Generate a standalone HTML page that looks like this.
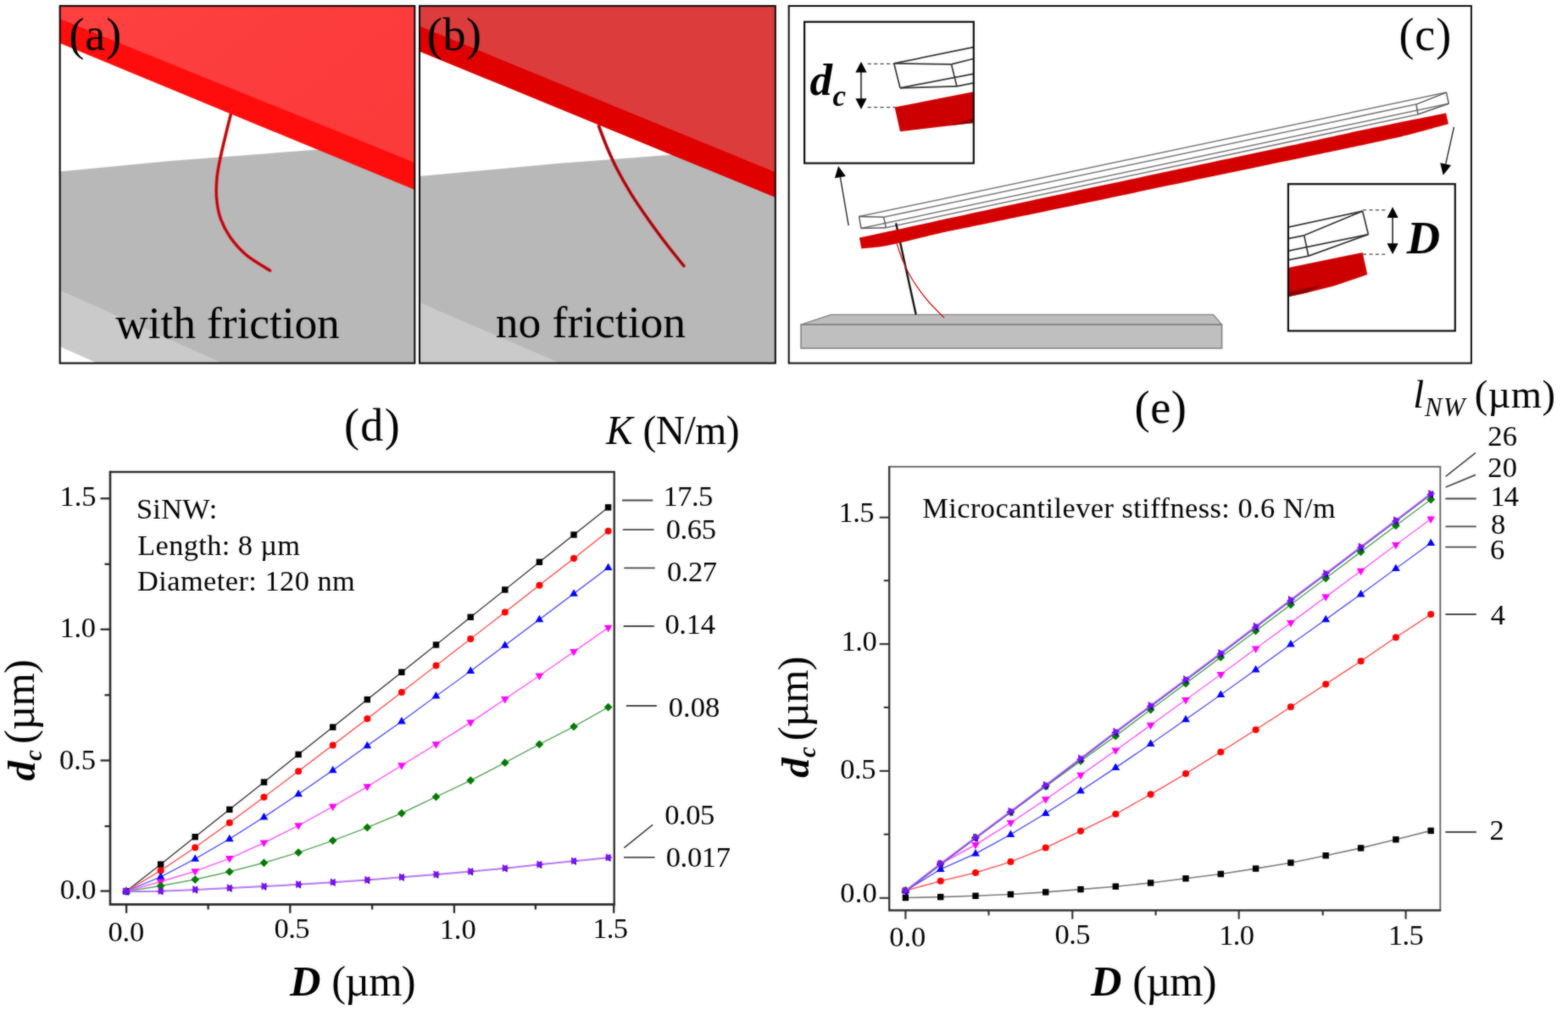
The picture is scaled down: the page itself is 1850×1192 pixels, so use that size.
<!DOCTYPE html>
<html lang="en"><head><meta charset="utf-8"><title>Figure</title>
<style>html,body{margin:0;padding:0;background:#fff;}body{width:1850px;height:1192px;overflow:hidden;}svg{display:block;}text{font-family:'Liberation Serif', 'DejaVu Serif', serif;fill:#000;}</style>
</head><body>
<svg width="1850" height="1192" viewBox="0 0 1850 1192">
<defs><filter id="soft" x="0" y="0" width="1850" height="1192" filterUnits="userSpaceOnUse" color-interpolation-filters="sRGB"><feGaussianBlur in="SourceGraphic" stdDeviation="0.8" result="b"/><feComposite in="SourceGraphic" in2="b" operator="arithmetic" k1="0" k2="0.5" k3="0.5" k4="0"/></filter></defs>
<rect width="1850" height="1192" fill="#fff"/>
<g filter="url(#soft)">
<g id="pa">
<clipPath id="clippa"><rect x="70.7" y="7.0" width="418.6" height="421.6"/></clipPath>
<linearGradient id="gradpa" x1="0" y1="0" x2="1" y2="0.6"><stop offset="0" stop-color="#ff4141"/><stop offset="1" stop-color="#fb3a3a"/></linearGradient>
<g clip-path="url(#clippa)">
<rect x="70.7" y="7.0" width="418.6" height="421.6" fill="#fff"/>
<polygon points="70.7,202.6 200.0,190.0 368.4,177.1 489.3,167.8 489.3,428.6 70.7,428.6" fill="#b8b8b8"/>
<polygon points="70.7,342.5 262.2,428.6 70.7,428.6" fill="#cacaca"/>
<polygon points="70.7,409.1 114.7,428.6 70.7,428.6" fill="#fff"/>
<path d="M272.3,135.1 C271.3,138.9 268.6,149.5 266.5,158.2 C264.4,166.9 261.6,178.4 259.8,187.1 C258.0,195.8 256.6,202.6 255.9,210.3 C255.2,218.0 254.8,225.7 255.5,233.4 C256.1,241.1 257.2,248.9 259.8,256.6 C262.4,264.3 266.3,272.3 271.4,279.7 C276.5,287.1 282.7,294.3 290.6,300.9 C298.5,307.5 313.9,316.2 318.6,319.3" fill="none" stroke="#d83030" stroke-width="3.9" stroke-linecap="round"/>
<path d="M272.3,135.1 C271.3,138.9 268.6,149.5 266.5,158.2 C264.4,166.9 261.6,178.4 259.8,187.1 C258.0,195.8 256.6,202.6 255.9,210.3 C255.2,218.0 254.8,225.7 255.5,233.4 C256.1,241.1 257.2,248.9 259.8,256.6 C262.4,264.3 266.3,272.3 271.4,279.7 C276.5,287.1 282.7,294.3 290.6,300.9 C298.5,307.5 313.9,316.2 318.6,319.3" fill="none" stroke="#b4000c" stroke-width="2.1" stroke-linecap="round"/>
<polygon points="70.7,7.0 489.3,7.0 489.3,224.0 70.7,51.1" fill="#ff0c0c"/>
<polygon points="70.7,7.0 489.3,7.0 489.3,192.0 70.7,22.3" fill="url(#gradpa)"/>
</g>
<rect x="70.7" y="7.0" width="418.6" height="421.6" fill="none" stroke="#0a0a0a" stroke-width="2.1"/>
<text x="81.43" y="58.6" font-size="54" letter-spacing="0.957" >(a)</text>
<text x="136.15" y="398.6" font-size="53.5" letter-spacing="-0.108" >with friction</text>
</g>
<g id="pb">
<clipPath id="clippb"><rect x="495.0" y="7.0" width="419.79999999999995" height="421.6"/></clipPath>
<linearGradient id="gradpb" x1="0" y1="0" x2="1" y2="0.6"><stop offset="0" stop-color="#dc3c3c"/><stop offset="1" stop-color="#dc3c3c"/></linearGradient>
<g clip-path="url(#clippb)">
<rect x="495.0" y="7.0" width="419.79999999999995" height="421.6" fill="#fff"/>
<polygon points="495.0,208.0 660.0,192.7 717.0,188.4 784.0,183.3 914.8,173.3 914.8,428.6 495.0,428.6" fill="#b8b8b8"/>
<polygon points="495.0,357.0 661.0,428.6 495.0,428.6" fill="#cacaca"/>
<path d="M706.5,148.9 C708.1,153.1 712.7,165.6 716.2,174.0 C719.8,182.4 723.1,190.1 727.8,199.1 C732.4,208.1 738.2,218.4 744.1,228.0 C750.0,237.6 756.6,247.2 763.4,256.9 C770.1,266.5 777.4,276.4 784.6,285.9 C791.8,295.4 803.1,309.1 806.8,313.8" fill="none" stroke="#c82828" stroke-width="3.9" stroke-linecap="round"/>
<path d="M706.5,148.9 C708.1,153.1 712.7,165.6 716.2,174.0 C719.8,182.4 723.1,190.1 727.8,199.1 C732.4,208.1 738.2,218.4 744.1,228.0 C750.0,237.6 756.6,247.2 763.4,256.9 C770.1,266.5 777.4,276.4 784.6,285.9 C791.8,295.4 803.1,309.1 806.8,313.8" fill="none" stroke="#9c000a" stroke-width="2.1" stroke-linecap="round"/>
<polygon points="495.0,7.0 914.8,7.0 914.8,233.0 495.0,60.7" fill="#e00000"/>
<polygon points="495.0,7.0 914.8,7.0 914.8,203.3 495.0,30.8" fill="url(#gradpb)"/>
</g>
<rect x="495.0" y="7.0" width="419.79999999999995" height="421.6" fill="none" stroke="#0a0a0a" stroke-width="2.1"/>
<text x="503.83" y="58.6" font-size="54" letter-spacing="0.591" >(b)</text>
<text x="584.77" y="398.4" font-size="53.5" letter-spacing="-0.011" >no friction</text>
</g>
<g id="pc">
<rect x="930.7" y="7" width="805.2" height="421.6" fill="#fff" stroke="#0a0a0a" stroke-width="2"/>
<polygon points="945.0,383.2 980.6,371.3 1431.6,371.3 1441.6,383.2" fill="#bdbdbd" stroke="#7d7d7d" stroke-width="1.3" stroke-linejoin="round"/>
<rect x="945" y="383.2" width="496.6" height="27.8" fill="#bfbfbf" stroke="#7d7d7d" stroke-width="1.5"/>
<line x1="1013.6" y1="255.5" x2="1706.5" y2="109.1" stroke="#747474" stroke-width="1.5" />
<line x1="1042.6" y1="256.3" x2="1671.0" y2="123.1" stroke="#747474" stroke-width="1.5" />
<line x1="1015.9" y1="269.5" x2="1709.3" y2="122.3" stroke="#747474" stroke-width="1.5" />
<line x1="1045.4" y1="268.7" x2="1673.0" y2="135.0" stroke="#747474" stroke-width="1.5" />
<line x1="1013.6" y1="255.5" x2="1042.6" y2="256.3" stroke="#585858" stroke-width="1.5" />
<line x1="1042.6" y1="256.3" x2="1045.4" y2="268.7" stroke="#585858" stroke-width="1.5" />
<line x1="1045.4" y1="268.7" x2="1015.9" y2="269.5" stroke="#585858" stroke-width="1.5" />
<line x1="1015.9" y1="269.5" x2="1013.6" y2="255.5" stroke="#585858" stroke-width="1.5" />
<line x1="1671.0" y1="123.1" x2="1706.5" y2="109.1" stroke="#585858" stroke-width="1.5" />
<line x1="1706.5" y1="109.1" x2="1709.3" y2="122.3" stroke="#585858" stroke-width="1.5" />
<line x1="1709.3" y1="122.3" x2="1673.0" y2="135.0" stroke="#585858" stroke-width="1.5" />
<line x1="1673.0" y1="135.0" x2="1671.0" y2="123.1" stroke="#585858" stroke-width="1.5" />
<line x1="1057.3" y1="264.3" x2="1080.5" y2="370.3" stroke="#111" stroke-width="2.4" stroke-linecap="round"/>
<path d="M1058.1,287.4 C1058.7,289.2 1060.2,294.3 1061.5,298.0 C1062.8,301.7 1064.2,305.4 1066.1,309.7 C1068.0,314.0 1070.3,319.2 1073.0,324.0 C1075.7,328.8 1078.2,333.0 1082.0,338.4 C1085.8,343.8 1090.7,350.4 1096.0,356.5 C1101.3,362.6 1111.0,372.0 1114.0,375.1" fill="none" stroke="#c81414" stroke-width="1.3"/>
<path d="M1013.9,280.6 C1044.9,273.9 1115.7,258.4 1200.0,240.3 C1284.3,222.2 1450.0,187.2 1520.0,172.3 C1590.0,157.4 1589.0,157.3 1620.0,150.8 C1651.0,144.3 1691.8,136.3 1706.1,133.4 L1708.9,146.2 C1701.4,148.2 1678.8,154.7 1664.0,158.4 C1649.2,162.1 1644.0,163.2 1620.0,168.4 C1596.0,173.6 1590.0,174.9 1520.0,189.6 C1450.0,204.2 1268.3,242.1 1200.0,256.3 C1131.7,270.5 1128.3,271.0 1110.0,274.9 C1091.7,278.8 1097.7,277.9 1090.0,279.7 C1082.3,281.5 1072.3,284.0 1064.0,285.9 C1055.7,287.8 1048.0,289.6 1040.0,290.9 C1032.0,292.1 1020.2,293.0 1016.3,293.4 Z" fill="#d40000"/>
<line x1="1001.2" y1="266.2" x2="991.4" y2="209.2" stroke="#222" stroke-width="1.4"/>
<polygon points="989.1,195.9 997.9,208.1 984.9,210.3" fill="#000"/>
<line x1="1715.5" y1="149.8" x2="1705.7" y2="193.6" stroke="#222" stroke-width="1.4"/>
<polygon points="1702.7,206.8 1699.2,192.2 1712.1,195.1" fill="#000"/>
<clipPath id="ci1"><rect x="949.1" y="25.8" width="199.7" height="166.8"/></clipPath>
<rect x="949.1" y="25.8" width="199.7" height="166.8" fill="#fff"/>
<g clip-path="url(#ci1)">
<line x1="1054.8" y1="74.9" x2="1148.8" y2="55.7" stroke="#303030" stroke-width="1.7" />
<line x1="1054.8" y1="74.9" x2="1122.5" y2="75.9" stroke="#303030" stroke-width="1.7" />
<line x1="1122.5" y1="75.9" x2="1148.8" y2="69.2" stroke="#303030" stroke-width="1.7" />
<line x1="1054.8" y1="74.9" x2="1062.0" y2="103.8" stroke="#303030" stroke-width="1.7" />
<line x1="1062.0" y1="103.8" x2="1128.9" y2="101.9" stroke="#303030" stroke-width="1.7" />
<line x1="1062.0" y1="103.8" x2="1148.8" y2="87.1" stroke="#303030" stroke-width="1.7" />
<line x1="1122.5" y1="75.9" x2="1128.9" y2="101.9" stroke="#303030" stroke-width="1.7" />
<line x1="1128.9" y1="101.9" x2="1148.8" y2="97.9" stroke="#303030" stroke-width="1.7" />
<polygon points="1055.6,126.6 1148.8,108.3 1148.8,144.9 1062.0,155.3" fill="#cc0000"/>
<polygon points="1120.1,148.3 1148.8,139.4 1148.8,144.9" fill="#8e0000"/>
</g>
<rect x="949.1" y="25.8" width="199.7" height="166.8" fill="none" stroke="#0a0a0a" stroke-width="2.2"/>
<line x1="1016.0" y1="84.5" x2="1016.0" y2="117.2" stroke="#111" stroke-width="1.5"/>
<polygon points="1016.0,72.7 1009.4,85.5 1022.6,85.5" fill="#000"/>
<polygon points="1016.0,129.0 1009.4,116.2 1022.6,116.2" fill="#000"/>
<line x1="1023.7" y1="75.3" x2="1054.8" y2="75.3" stroke="#444" stroke-width="1.2" stroke-dasharray="4.2 3.2"/>
<line x1="1023.7" y1="126.6" x2="1056.4" y2="126.6" stroke="#444" stroke-width="1.2" stroke-dasharray="4.2 3.2"/>
<text><tspan x="955.58" y="112.30" font-size="53" letter-spacing="0.000" font-weight="bold" font-style="italic">d</tspan><tspan x="982.49" y="125.20" font-size="35" letter-spacing="0.000" font-weight="bold" font-style="italic">c</tspan></text>
<clipPath id="ci2"><rect x="1519.9" y="217.2" width="196.9" height="173.3"/></clipPath>
<rect x="1519.9" y="217.2" width="196.9" height="173.3" fill="#fff"/>
<g clip-path="url(#ci2)">
<line x1="1519.9" y1="268.2" x2="1607.6" y2="249.1" stroke="#303030" stroke-width="1.7" />
<line x1="1519.9" y1="281.7" x2="1538.7" y2="277.8" stroke="#303030" stroke-width="1.7" />
<line x1="1538.7" y1="277.8" x2="1607.6" y2="249.1" stroke="#303030" stroke-width="1.7" />
<line x1="1538.7" y1="277.8" x2="1543.8" y2="302.1" stroke="#303030" stroke-width="1.7" />
<line x1="1543.8" y1="302.1" x2="1614.4" y2="276.6" stroke="#303030" stroke-width="1.7" />
<line x1="1607.6" y1="249.1" x2="1614.4" y2="276.6" stroke="#303030" stroke-width="1.7" />
<line x1="1519.9" y1="296.1" x2="1614.4" y2="276.6" stroke="#303030" stroke-width="1.7" />
<line x1="1519.9" y1="306.9" x2="1543.8" y2="302.1" stroke="#303030" stroke-width="1.7" />
<polygon points="1519.9,316.0 1607.6,298.0 1613.3,324.0 1573.8,337.5 1541.9,345.5 1519.9,350.3" fill="#cc0000"/>
<polygon points="1519.9,344.5 1560.0,336.5 1541.9,345.5 1519.9,350.3" fill="#8e0000"/>
</g>
<rect x="1519.9" y="217.2" width="196.9" height="173.3" fill="none" stroke="#0a0a0a" stroke-width="2.2"/>
<line x1="1643.1" y1="256.1" x2="1643.1" y2="288.3" stroke="#111" stroke-width="1.5"/>
<polygon points="1643.1,244.3 1636.5,257.1 1649.7,257.1" fill="#000"/>
<polygon points="1643.1,300.1 1636.5,287.3 1649.7,287.3" fill="#000"/>
<line x1="1608" y1="247.9" x2="1634.5" y2="247.9" stroke="#444" stroke-width="1.2" stroke-dasharray="4.2 3.2"/>
<line x1="1608" y1="300.1" x2="1635" y2="300.1" stroke="#444" stroke-width="1.2" stroke-dasharray="4.2 3.2"/>
<text x="1659.70" y="298.8" font-size="54.5" letter-spacing="0.000" font-weight="bold" font-style="italic" >D</text>
<text x="1650.43" y="59.3" font-size="54" letter-spacing="0.907" >(c)</text>
</g>
<g id="pd">
<rect x="130.0" y="557.0" width="594.7" height="510.4000000000001" fill="#fff" stroke="#262626" stroke-width="2.3"/>
<polyline points="130.0,555.85 130.0,1067.4 725.85,1067.4" fill="none" stroke="#262626" stroke-width="2.3"/>
<line x1="149.1" y1="1067.4" x2="149.1" y2="1077.7" stroke="#262626" stroke-width="2.3"/>
<text x="127.39" y="1111.3" font-size="34.5" letter-spacing="-0.149" >0.0</text>
<line x1="342.3" y1="1067.4" x2="342.3" y2="1077.7" stroke="#262626" stroke-width="2.3"/>
<text x="323.59" y="1107.4" font-size="34.5" letter-spacing="-0.582" >0.5</text>
<line x1="535.9" y1="1067.4" x2="535.9" y2="1077.7" stroke="#262626" stroke-width="2.3"/>
<text x="518.67" y="1108.0" font-size="34.5" letter-spacing="-0.039" >1.0</text>
<line x1="724.2" y1="1067.4" x2="724.2" y2="1077.7" stroke="#262626" stroke-width="2.3"/>
<text x="699.17" y="1107.4" font-size="34.5" letter-spacing="-0.623" >1.5</text>
<line x1="245.6" y1="1067.4" x2="245.6" y2="1073.4" stroke="#262626" stroke-width="2.3"/>
<line x1="439.1" y1="1067.4" x2="439.1" y2="1073.4" stroke="#262626" stroke-width="2.3"/>
<line x1="631.9" y1="1067.4" x2="631.9" y2="1073.4" stroke="#262626" stroke-width="2.3"/>
<line x1="118.5" y1="1051.6" x2="130.0" y2="1051.6" stroke="#262626" stroke-width="2.3"/>
<text x="70.79" y="1060.8" font-size="34.5" letter-spacing="-0.249" >0.0</text>
<line x1="118.5" y1="897.5" x2="130.0" y2="897.5" stroke="#262626" stroke-width="2.3"/>
<text x="69.99" y="907.6" font-size="34.5" letter-spacing="-0.082" >0.5</text>
<line x1="118.5" y1="742.8" x2="130.0" y2="742.8" stroke="#262626" stroke-width="2.3"/>
<text x="70.47" y="752.0" font-size="34.5" letter-spacing="-0.239" >1.0</text>
<line x1="118.5" y1="588.3" x2="130.0" y2="588.3" stroke="#262626" stroke-width="2.3"/>
<text x="70.47" y="597.3" font-size="34.5" letter-spacing="-0.073" >1.5</text>
<line x1="123.5" y1="975.1" x2="130.0" y2="975.1" stroke="#262626" stroke-width="2.3"/>
<line x1="123.5" y1="820.3" x2="130.0" y2="820.3" stroke="#262626" stroke-width="2.3"/>
<line x1="123.5" y1="665.8" x2="130.0" y2="665.8" stroke="#262626" stroke-width="2.3"/>
<polyline points="149.0,1051.9 189.6,1020.1 230.2,987.7 270.8,955.4 311.4,923.1 352.1,890.4 392.7,858.2 433.3,825.6 473.9,793.3 514.5,761.0 555.2,728.3 595.8,696.0 636.4,663.3 677.0,631.1 717.6,598.8" fill="none" stroke="#4a4a4a" stroke-width="1.5"/>
<rect x="145.3" y="1048.2" width="7.4" height="7.4" fill="#000"/><rect x="185.9" y="1016.4" width="7.4" height="7.4" fill="#000"/><rect x="226.5" y="984.0" width="7.4" height="7.4" fill="#000"/><rect x="267.1" y="951.7" width="7.4" height="7.4" fill="#000"/><rect x="307.8" y="919.4" width="7.4" height="7.4" fill="#000"/><rect x="348.4" y="886.7" width="7.4" height="7.4" fill="#000"/><rect x="389.0" y="854.5" width="7.4" height="7.4" fill="#000"/><rect x="429.6" y="821.9" width="7.4" height="7.4" fill="#000"/><rect x="470.2" y="789.6" width="7.4" height="7.4" fill="#000"/><rect x="510.8" y="757.3" width="7.4" height="7.4" fill="#000"/><rect x="551.5" y="724.6" width="7.4" height="7.4" fill="#000"/><rect x="592.1" y="692.3" width="7.4" height="7.4" fill="#000"/><rect x="632.7" y="659.6" width="7.4" height="7.4" fill="#000"/><rect x="673.3" y="627.4" width="7.4" height="7.4" fill="#000"/><rect x="713.9" y="595.1" width="7.4" height="7.4" fill="#000"/>
<polyline points="149.0,1051.9 189.6,1027.4 230.2,1000.2 270.8,970.9 311.4,940.8 352.1,910.2 392.7,879.4 433.3,848.3 473.9,816.9 514.5,785.5 555.2,754.0 595.8,722.6 636.4,690.7 677.0,659.1 717.6,626.8" fill="none" stroke="#ff5a5a" stroke-width="1.5"/>
<circle cx="149.0" cy="1051.9" r="4.0" fill="#ff0000"/><circle cx="189.6" cy="1027.4" r="4.0" fill="#ff0000"/><circle cx="230.2" cy="1000.2" r="4.0" fill="#ff0000"/><circle cx="270.8" cy="970.9" r="4.0" fill="#ff0000"/><circle cx="311.4" cy="940.8" r="4.0" fill="#ff0000"/><circle cx="352.1" cy="910.2" r="4.0" fill="#ff0000"/><circle cx="392.7" cy="879.4" r="4.0" fill="#ff0000"/><circle cx="433.3" cy="848.3" r="4.0" fill="#ff0000"/><circle cx="473.9" cy="816.9" r="4.0" fill="#ff0000"/><circle cx="514.5" cy="785.5" r="4.0" fill="#ff0000"/><circle cx="555.2" cy="754.0" r="4.0" fill="#ff0000"/><circle cx="595.8" cy="722.6" r="4.0" fill="#ff0000"/><circle cx="636.4" cy="690.7" r="4.0" fill="#ff0000"/><circle cx="677.0" cy="659.1" r="4.0" fill="#ff0000"/><circle cx="717.6" cy="626.8" r="4.0" fill="#ff0000"/>
<polyline points="149.0,1051.9 189.6,1034.9 230.2,1013.7 270.8,990.1 311.4,964.4 352.1,937.1 392.7,909.2 433.3,880.2 473.9,851.4 514.5,821.5 555.2,792.0 595.8,761.7 636.4,731.2 677.0,700.6 717.6,669.8" fill="none" stroke="#5a5aff" stroke-width="1.5"/>
<polygon points="149.0,1046.5 153.9,1055.0 144.1,1055.0" fill="#0000ff"/><polygon points="189.6,1029.5 194.5,1038.0 184.7,1038.0" fill="#0000ff"/><polygon points="230.2,1008.3 235.1,1016.8 225.3,1016.8" fill="#0000ff"/><polygon points="270.8,984.7 275.7,993.2 265.9,993.2" fill="#0000ff"/><polygon points="311.4,959.0 316.3,967.5 306.6,967.5" fill="#0000ff"/><polygon points="352.1,931.7 357.0,940.2 347.2,940.2" fill="#0000ff"/><polygon points="392.7,903.8 397.6,912.3 387.8,912.3" fill="#0000ff"/><polygon points="433.3,874.8 438.2,883.3 428.4,883.3" fill="#0000ff"/><polygon points="473.9,846.0 478.8,854.5 469.0,854.5" fill="#0000ff"/><polygon points="514.5,816.1 519.4,824.6 509.6,824.6" fill="#0000ff"/><polygon points="555.2,786.6 560.1,795.1 550.3,795.1" fill="#0000ff"/><polygon points="595.8,756.3 600.7,764.8 590.9,764.8" fill="#0000ff"/><polygon points="636.4,725.8 641.3,734.3 631.5,734.3" fill="#0000ff"/><polygon points="677.0,695.2 681.9,703.7 672.1,703.7" fill="#0000ff"/><polygon points="717.6,664.4 722.5,672.9 712.8,672.9" fill="#0000ff"/>
<polyline points="149.0,1051.9 189.6,1040.5 230.2,1028.3 270.8,1013.1 311.4,994.7 352.1,974.4 392.7,951.9 433.3,928.4 473.9,903.3 514.5,878.3 555.2,852.5 595.8,825.2 636.4,797.5 677.0,769.2 717.6,740.9" fill="none" stroke="#ff5aff" stroke-width="1.5"/>
<polygon points="149.0,1057.3 153.9,1048.8 144.1,1048.8" fill="#ff00ff"/><polygon points="189.6,1045.9 194.5,1037.4 184.7,1037.4" fill="#ff00ff"/><polygon points="230.2,1033.7 235.1,1025.2 225.3,1025.2" fill="#ff00ff"/><polygon points="270.8,1018.5 275.7,1010.0 265.9,1010.0" fill="#ff00ff"/><polygon points="311.4,1000.1 316.3,991.6 306.6,991.6" fill="#ff00ff"/><polygon points="352.1,979.8 357.0,971.3 347.2,971.3" fill="#ff00ff"/><polygon points="392.7,957.3 397.6,948.8 387.8,948.8" fill="#ff00ff"/><polygon points="433.3,933.8 438.2,925.3 428.4,925.3" fill="#ff00ff"/><polygon points="473.9,908.7 478.8,900.2 469.0,900.2" fill="#ff00ff"/><polygon points="514.5,883.7 519.4,875.2 509.6,875.2" fill="#ff00ff"/><polygon points="555.2,857.9 560.1,849.4 550.3,849.4" fill="#ff00ff"/><polygon points="595.8,830.6 600.7,822.1 590.9,822.1" fill="#ff00ff"/><polygon points="636.4,802.9 641.3,794.4 631.5,794.4" fill="#ff00ff"/><polygon points="677.0,774.6 681.9,766.1 672.1,766.1" fill="#ff00ff"/><polygon points="717.6,746.3 722.5,737.8 712.8,737.8" fill="#ff00ff"/>
<polyline points="149.0,1051.9 189.6,1045.4 230.2,1038.1 270.8,1028.8 311.4,1018.3 352.1,1006.1 392.7,992.1 433.3,976.6 473.9,959.8 514.5,940.4 555.2,921.1 595.8,900.2 636.4,878.4 677.0,857.6 717.6,834.6" fill="none" stroke="#5aa65a" stroke-width="1.5"/>
<polygon points="149.0,1047.0 153.9,1051.9 149.0,1056.8 144.1,1051.9" fill="#007800"/><polygon points="189.6,1040.5 194.5,1045.4 189.6,1050.3 184.7,1045.4" fill="#007800"/><polygon points="230.2,1033.2 235.1,1038.1 230.2,1043.0 225.3,1038.1" fill="#007800"/><polygon points="270.8,1023.9 275.7,1028.8 270.8,1033.7 265.9,1028.8" fill="#007800"/><polygon points="311.4,1013.4 316.3,1018.3 311.4,1023.2 306.6,1018.3" fill="#007800"/><polygon points="352.1,1001.2 357.0,1006.1 352.1,1011.0 347.2,1006.1" fill="#007800"/><polygon points="392.7,987.2 397.6,992.1 392.7,997.0 387.8,992.1" fill="#007800"/><polygon points="433.3,971.7 438.2,976.6 433.3,981.5 428.4,976.6" fill="#007800"/><polygon points="473.9,954.9 478.8,959.8 473.9,964.7 469.0,959.8" fill="#007800"/><polygon points="514.5,935.5 519.4,940.4 514.5,945.3 509.6,940.4" fill="#007800"/><polygon points="555.2,916.2 560.1,921.1 555.2,926.0 550.3,921.1" fill="#007800"/><polygon points="595.8,895.3 600.7,900.2 595.8,905.1 590.9,900.2" fill="#007800"/><polygon points="636.4,873.5 641.3,878.4 636.4,883.3 631.5,878.4" fill="#007800"/><polygon points="677.0,852.7 681.9,857.6 677.0,862.5 672.1,857.6" fill="#007800"/><polygon points="717.6,829.7 722.5,834.6 717.6,839.5 712.8,834.6" fill="#007800"/>
<polyline points="149.0,1052.4 189.6,1052.0 230.2,1050.2 270.8,1048.3 311.4,1046.3 352.1,1044.1 392.7,1041.5 433.3,1038.8 473.9,1035.5 514.5,1032.3 555.2,1028.8 595.8,1025.0 636.4,1020.6 677.0,1016.5 717.6,1012.4" fill="none" stroke="#8a6ad8" stroke-width="1.5"/>
<polygon points="144.0,1052.4 151.9,1047.8 151.9,1057.0" fill="#3a00c8"/><polygon points="184.6,1052.0 192.5,1047.4 192.5,1056.6" fill="#3a00c8"/><polygon points="225.2,1050.2 233.1,1045.6 233.1,1054.8" fill="#3a00c8"/><polygon points="265.8,1048.3 273.7,1043.7 273.7,1052.9" fill="#3a00c8"/><polygon points="306.4,1046.3 314.3,1041.7 314.3,1050.9" fill="#3a00c8"/><polygon points="347.1,1044.1 355.0,1039.5 355.0,1048.7" fill="#3a00c8"/><polygon points="387.7,1041.5 395.6,1036.9 395.6,1046.1" fill="#3a00c8"/><polygon points="428.3,1038.8 436.2,1034.2 436.2,1043.4" fill="#3a00c8"/><polygon points="468.9,1035.5 476.8,1030.9 476.8,1040.1" fill="#3a00c8"/><polygon points="509.5,1032.3 517.4,1027.7 517.4,1036.9" fill="#3a00c8"/><polygon points="550.2,1028.8 558.1,1024.2 558.1,1033.4" fill="#3a00c8"/><polygon points="590.8,1025.0 598.7,1020.4 598.7,1029.6" fill="#3a00c8"/><polygon points="631.4,1020.6 639.3,1016.0 639.3,1025.2" fill="#3a00c8"/><polygon points="672.0,1016.5 679.9,1011.9 679.9,1021.1" fill="#3a00c8"/><polygon points="712.6,1012.4 720.5,1007.8 720.5,1017.0" fill="#3a00c8"/>
<polyline points="149.0,1051.9 189.6,1051.5 230.2,1049.7 270.8,1047.8 311.4,1045.8 352.1,1043.6 392.7,1041.0 433.3,1038.3 473.9,1035.0 514.5,1031.8 555.2,1028.3 595.8,1024.5 636.4,1020.1 677.0,1016.0 717.6,1011.9" fill="none" stroke="#c07cff" stroke-width="1.5"/>
<polygon points="154.0,1051.9 146.1,1047.3 146.1,1056.5" fill="#7d10f5"/><polygon points="194.6,1051.5 186.7,1046.9 186.7,1056.1" fill="#7d10f5"/><polygon points="235.2,1049.7 227.3,1045.1 227.3,1054.3" fill="#7d10f5"/><polygon points="275.8,1047.8 267.9,1043.2 267.9,1052.4" fill="#7d10f5"/><polygon points="316.4,1045.8 308.6,1041.2 308.6,1050.4" fill="#7d10f5"/><polygon points="357.1,1043.6 349.2,1039.0 349.2,1048.2" fill="#7d10f5"/><polygon points="397.7,1041.0 389.8,1036.4 389.8,1045.6" fill="#7d10f5"/><polygon points="438.3,1038.3 430.4,1033.7 430.4,1042.9" fill="#7d10f5"/><polygon points="478.9,1035.0 471.0,1030.4 471.0,1039.6" fill="#7d10f5"/><polygon points="519.5,1031.8 511.6,1027.2 511.6,1036.4" fill="#7d10f5"/><polygon points="560.2,1028.3 552.3,1023.7 552.3,1032.9" fill="#7d10f5"/><polygon points="600.8,1024.5 592.9,1019.9 592.9,1029.1" fill="#7d10f5"/><polygon points="641.4,1020.1 633.5,1015.5 633.5,1024.7" fill="#7d10f5"/><polygon points="682.0,1016.0 674.1,1011.4 674.1,1020.6" fill="#7d10f5"/><polygon points="722.6,1011.9 714.8,1007.3 714.8,1016.5" fill="#7d10f5"/>
<text x="160.91" y="612.2" font-size="34.3" letter-spacing="0.349" >SiNW:</text>
<text x="162.21" y="654.8" font-size="34.3" letter-spacing="0.400" >Length: 8 µm</text>
<text x="161.91" y="697.3" font-size="34.3" letter-spacing="0.484" >Diameter: 120 nm</text>
<text x="405.93" y="519.6" font-size="54" letter-spacing="1.441" >(d)</text>
<text><tspan x="715.06" y="524.00" font-size="47.5" letter-spacing="0.000" font-style="italic">K </tspan><tspan x="758.41" y="524.00" font-size="47.5" letter-spacing="-0.477">(N/m)</tspan></text>
<line x1="734.0" y1="590.5" x2="770.3" y2="590.5" stroke="#444" stroke-width="1.8"/>
<text x="782.47" y="597.3" font-size="34.5" letter-spacing="-0.498" >17.5</text>
<line x1="734.8" y1="625.1" x2="771.5" y2="625.1" stroke="#444" stroke-width="1.8"/>
<text x="785.69" y="635.6" font-size="34.5" letter-spacing="-0.371" >0.65</text>
<line x1="736.3" y1="670.3" x2="772.9" y2="670.3" stroke="#444" stroke-width="1.8"/>
<text x="786.99" y="685.5" font-size="34.5" letter-spacing="-0.456" >0.27</text>
<line x1="735.6" y1="739.0" x2="771.8" y2="739.0" stroke="#444" stroke-width="1.8"/>
<text x="784.39" y="748.0" font-size="34.5" letter-spacing="-0.274" >0.14</text>
<line x1="738.8" y1="833.0" x2="774.8" y2="833.0" stroke="#444" stroke-width="1.8"/>
<text x="788.69" y="846.0" font-size="34.5" letter-spacing="0.084" >0.08</text>
<line x1="736.3" y1="1000.6" x2="770.1" y2="973.4" stroke="#444" stroke-width="1.8"/>
<text x="784.19" y="972.9" font-size="34.5" letter-spacing="-0.404" >0.05</text>
<line x1="736.0" y1="1011.9" x2="772.6" y2="1011.9" stroke="#444" stroke-width="1.8"/>
<text x="785.69" y="1023.3" font-size="34.5" letter-spacing="-0.329" >0.017</text>
<text><tspan x="341.97" y="1175.30" font-size="50.5" letter-spacing="0.000" font-weight="bold" font-style="italic">D </tspan><tspan x="391.18" y="1175.30" font-size="50.5" letter-spacing="-0.891">(µm)</tspan></text>
<text transform="rotate(-90)"><tspan x="-921.45" y="40.90" font-size="46.8" letter-spacing="0.000" font-weight="bold" font-style="italic">d</tspan><tspan x="-897.72" y="48.80" font-size="28.5" letter-spacing="0.000" font-weight="bold" font-style="italic">c </tspan><tspan x="-877.92" y="39.70" font-size="50.5" letter-spacing="-0.724">(µm)</tspan></text>
</g>
<g id="pe">
<rect x="1049.2" y="550.8" width="650.0999999999999" height="523.6000000000001" fill="#fff" stroke="#5c5c5c" stroke-width="1.8"/>
<polyline points="1049.2,549.9 1049.2,1074.4 1700.2,1074.4" fill="none" stroke="#2e2e2e" stroke-width="2.1"/>
<line x1="1068.4" y1="1074.4" x2="1068.4" y2="1084.7" stroke="#2e2e2e" stroke-width="2.1"/>
<text x="1049.19" y="1117.3" font-size="34.5" letter-spacing="0.001" >0.0</text>
<line x1="1265.3" y1="1074.4" x2="1265.3" y2="1084.7" stroke="#2e2e2e" stroke-width="2.1"/>
<text x="1244.49" y="1113.6" font-size="34.5" letter-spacing="-0.582" >0.5</text>
<line x1="1461.7" y1="1074.4" x2="1461.7" y2="1084.7" stroke="#2e2e2e" stroke-width="2.1"/>
<text x="1438.17" y="1114.6" font-size="34.5" letter-spacing="-0.589" >1.0</text>
<line x1="1658.6" y1="1074.4" x2="1658.6" y2="1084.7" stroke="#2e2e2e" stroke-width="2.1"/>
<text x="1637.97" y="1114.6" font-size="34.5" letter-spacing="-0.673" >1.5</text>
<line x1="1166.5" y1="1074.4" x2="1166.5" y2="1080.4" stroke="#2e2e2e" stroke-width="2.1"/>
<line x1="1363.6" y1="1074.4" x2="1363.6" y2="1080.4" stroke="#2e2e2e" stroke-width="2.1"/>
<line x1="1560.7" y1="1074.4" x2="1560.7" y2="1080.4" stroke="#2e2e2e" stroke-width="2.1"/>
<line x1="1037.7" y1="1059.8" x2="1049.2" y2="1059.8" stroke="#2e2e2e" stroke-width="2.1"/>
<text x="991.29" y="1064.6" font-size="34.5" letter-spacing="0.151" >0.0</text>
<line x1="1037.7" y1="909.9" x2="1049.2" y2="909.9" stroke="#2e2e2e" stroke-width="2.1"/>
<text x="991.29" y="918.9" font-size="34.5" letter-spacing="-0.432" >0.5</text>
<line x1="1037.7" y1="760.1" x2="1049.2" y2="760.1" stroke="#2e2e2e" stroke-width="2.1"/>
<text x="992.57" y="767.6" font-size="34.5" letter-spacing="-0.489" >1.0</text>
<line x1="1037.7" y1="610.7" x2="1049.2" y2="610.7" stroke="#2e2e2e" stroke-width="2.1"/>
<text x="989.57" y="616.1" font-size="34.5" letter-spacing="-0.573" >1.5</text>
<line x1="1042.7" y1="984.7" x2="1049.2" y2="984.7" stroke="#2e2e2e" stroke-width="2.1"/>
<line x1="1042.7" y1="834.9" x2="1049.2" y2="834.9" stroke="#2e2e2e" stroke-width="2.1"/>
<line x1="1042.7" y1="685.2" x2="1049.2" y2="685.2" stroke="#2e2e2e" stroke-width="2.1"/>
<polyline points="1068.4,1059.5 1109.7,1058.6 1151.0,1057.3 1192.4,1055.5 1233.7,1052.9 1275.0,1049.6 1316.3,1046.2 1357.6,1042.0 1399.0,1036.8 1440.3,1031.5 1481.6,1025.1 1522.9,1018.2 1564.2,1009.7 1605.6,1000.9 1646.9,990.8 1688.2,980.4" fill="none" stroke="#7a7a7a" stroke-width="1.6"/>
<rect x="1064.7" y="1055.8" width="7.4" height="7.4" fill="#000"/><rect x="1106.0" y="1054.9" width="7.4" height="7.4" fill="#000"/><rect x="1147.3" y="1053.6" width="7.4" height="7.4" fill="#000"/><rect x="1188.7" y="1051.8" width="7.4" height="7.4" fill="#000"/><rect x="1230.0" y="1049.2" width="7.4" height="7.4" fill="#000"/><rect x="1271.3" y="1045.9" width="7.4" height="7.4" fill="#000"/><rect x="1312.6" y="1042.5" width="7.4" height="7.4" fill="#000"/><rect x="1353.9" y="1038.3" width="7.4" height="7.4" fill="#000"/><rect x="1395.3" y="1033.1" width="7.4" height="7.4" fill="#000"/><rect x="1436.6" y="1027.8" width="7.4" height="7.4" fill="#000"/><rect x="1477.9" y="1021.4" width="7.4" height="7.4" fill="#000"/><rect x="1519.2" y="1014.5" width="7.4" height="7.4" fill="#000"/><rect x="1560.5" y="1006.0" width="7.4" height="7.4" fill="#000"/><rect x="1601.9" y="997.2" width="7.4" height="7.4" fill="#000"/><rect x="1643.2" y="987.1" width="7.4" height="7.4" fill="#000"/><rect x="1684.5" y="976.7" width="7.4" height="7.4" fill="#000"/>
<polyline points="1068.4,1051.2 1109.7,1039.8 1151.0,1030.0 1192.4,1017.1 1233.7,1000.5 1275.0,980.7 1316.3,960.8 1357.6,937.5 1399.0,913.1 1440.3,887.4 1481.6,861.2 1522.9,834.3 1564.2,807.4 1605.6,780.3 1646.9,752.2 1688.2,725.1" fill="none" stroke="#ff5a5a" stroke-width="1.5"/>
<circle cx="1068.4" cy="1051.2" r="4.0" fill="#ff0000"/><circle cx="1109.7" cy="1039.8" r="4.0" fill="#ff0000"/><circle cx="1151.0" cy="1030.0" r="4.0" fill="#ff0000"/><circle cx="1192.4" cy="1017.1" r="4.0" fill="#ff0000"/><circle cx="1233.7" cy="1000.5" r="4.0" fill="#ff0000"/><circle cx="1275.0" cy="980.7" r="4.0" fill="#ff0000"/><circle cx="1316.3" cy="960.8" r="4.0" fill="#ff0000"/><circle cx="1357.6" cy="937.5" r="4.0" fill="#ff0000"/><circle cx="1399.0" cy="913.1" r="4.0" fill="#ff0000"/><circle cx="1440.3" cy="887.4" r="4.0" fill="#ff0000"/><circle cx="1481.6" cy="861.2" r="4.0" fill="#ff0000"/><circle cx="1522.9" cy="834.3" r="4.0" fill="#ff0000"/><circle cx="1564.2" cy="807.4" r="4.0" fill="#ff0000"/><circle cx="1605.6" cy="780.3" r="4.0" fill="#ff0000"/><circle cx="1646.9" cy="752.2" r="4.0" fill="#ff0000"/><circle cx="1688.2" cy="725.1" r="4.0" fill="#ff0000"/>
<polyline points="1068.4,1051.2 1109.7,1025.9 1151.0,1007.5 1192.4,984.8 1233.7,959.9 1275.0,933.3 1316.3,906.0 1357.6,878.0 1399.0,849.1 1440.3,820.0 1481.6,790.4 1522.9,760.5 1564.2,731.2 1605.6,701.3 1646.9,671.0 1688.2,640.9" fill="none" stroke="#5a5aff" stroke-width="1.5"/>
<polygon points="1068.4,1045.8 1073.3,1054.3 1063.5,1054.3" fill="#0000ff"/><polygon points="1109.7,1020.5 1114.6,1029.0 1104.8,1029.0" fill="#0000ff"/><polygon points="1151.0,1002.1 1155.9,1010.6 1146.1,1010.6" fill="#0000ff"/><polygon points="1192.4,979.4 1197.3,987.9 1187.5,987.9" fill="#0000ff"/><polygon points="1233.7,954.5 1238.6,963.0 1228.8,963.0" fill="#0000ff"/><polygon points="1275.0,927.9 1279.9,936.4 1270.1,936.4" fill="#0000ff"/><polygon points="1316.3,900.6 1321.2,909.1 1311.4,909.1" fill="#0000ff"/><polygon points="1357.6,872.6 1362.5,881.1 1352.7,881.1" fill="#0000ff"/><polygon points="1399.0,843.7 1403.9,852.2 1394.1,852.2" fill="#0000ff"/><polygon points="1440.3,814.6 1445.2,823.1 1435.4,823.1" fill="#0000ff"/><polygon points="1481.6,785.0 1486.5,793.5 1476.7,793.5" fill="#0000ff"/><polygon points="1522.9,755.1 1527.8,763.6 1518.0,763.6" fill="#0000ff"/><polygon points="1564.2,725.8 1569.1,734.3 1559.3,734.3" fill="#0000ff"/><polygon points="1605.6,695.9 1610.5,704.4 1600.7,704.4" fill="#0000ff"/><polygon points="1646.9,665.6 1651.8,674.1 1642.0,674.1" fill="#0000ff"/><polygon points="1688.2,635.5 1693.1,644.0 1683.3,644.0" fill="#0000ff"/>
<polyline points="1068.4,1051.2 1109.7,1019.5 1151.0,997.0 1192.4,971.1 1233.7,943.4 1275.0,914.8 1316.3,885.6 1357.6,855.9 1399.0,826.0 1440.3,796.0 1481.6,765.5 1522.9,735.1 1564.2,704.4 1605.6,673.8 1646.9,643.0 1688.2,612.5" fill="none" stroke="#ff5aff" stroke-width="1.5"/>
<polygon points="1068.4,1056.6 1073.3,1048.1 1063.5,1048.1" fill="#ff00ff"/><polygon points="1109.7,1024.9 1114.6,1016.4 1104.8,1016.4" fill="#ff00ff"/><polygon points="1151.0,1002.4 1155.9,993.9 1146.1,993.9" fill="#ff00ff"/><polygon points="1192.4,976.5 1197.3,968.0 1187.5,968.0" fill="#ff00ff"/><polygon points="1233.7,948.8 1238.6,940.3 1228.8,940.3" fill="#ff00ff"/><polygon points="1275.0,920.2 1279.9,911.7 1270.1,911.7" fill="#ff00ff"/><polygon points="1316.3,891.0 1321.2,882.5 1311.4,882.5" fill="#ff00ff"/><polygon points="1357.6,861.3 1362.5,852.8 1352.7,852.8" fill="#ff00ff"/><polygon points="1399.0,831.4 1403.9,822.9 1394.1,822.9" fill="#ff00ff"/><polygon points="1440.3,801.4 1445.2,792.9 1435.4,792.9" fill="#ff00ff"/><polygon points="1481.6,770.9 1486.5,762.4 1476.7,762.4" fill="#ff00ff"/><polygon points="1522.9,740.5 1527.8,732.0 1518.0,732.0" fill="#ff00ff"/><polygon points="1564.2,709.8 1569.1,701.3 1559.3,701.3" fill="#ff00ff"/><polygon points="1605.6,679.2 1610.5,670.7 1600.7,670.7" fill="#ff00ff"/><polygon points="1646.9,648.4 1651.8,639.9 1642.0,639.9" fill="#ff00ff"/><polygon points="1688.2,617.9 1693.1,609.4 1683.3,609.4" fill="#ff00ff"/>
<polyline points="1068.4,1051.2 1109.7,1019.5 1151.0,988.5 1192.4,958.6 1233.7,928.1 1275.0,898.1 1316.3,868.7 1357.6,837.5 1399.0,806.7 1440.3,775.7 1481.6,744.6 1522.9,713.6 1564.2,682.5 1605.6,651.3 1646.9,620.3 1688.2,589.5" fill="none" stroke="#5aa65a" stroke-width="1.5"/>
<polygon points="1068.4,1046.3 1073.3,1051.2 1068.4,1056.1 1063.5,1051.2" fill="#007800"/><polygon points="1109.7,1014.6 1114.6,1019.5 1109.7,1024.4 1104.8,1019.5" fill="#007800"/><polygon points="1151.0,983.6 1155.9,988.5 1151.0,993.4 1146.1,988.5" fill="#007800"/><polygon points="1192.4,953.7 1197.3,958.6 1192.4,963.5 1187.5,958.6" fill="#007800"/><polygon points="1233.7,923.2 1238.6,928.1 1233.7,933.0 1228.8,928.1" fill="#007800"/><polygon points="1275.0,893.2 1279.9,898.1 1275.0,903.0 1270.1,898.1" fill="#007800"/><polygon points="1316.3,863.8 1321.2,868.7 1316.3,873.6 1311.4,868.7" fill="#007800"/><polygon points="1357.6,832.6 1362.5,837.5 1357.6,842.4 1352.7,837.5" fill="#007800"/><polygon points="1399.0,801.8 1403.9,806.7 1399.0,811.6 1394.1,806.7" fill="#007800"/><polygon points="1440.3,770.8 1445.2,775.7 1440.3,780.6 1435.4,775.7" fill="#007800"/><polygon points="1481.6,739.7 1486.5,744.6 1481.6,749.5 1476.7,744.6" fill="#007800"/><polygon points="1522.9,708.7 1527.8,713.6 1522.9,718.5 1518.0,713.6" fill="#007800"/><polygon points="1564.2,677.6 1569.1,682.5 1564.2,687.4 1559.3,682.5" fill="#007800"/><polygon points="1605.6,646.4 1610.5,651.3 1605.6,656.2 1600.7,651.3" fill="#007800"/><polygon points="1646.9,615.4 1651.8,620.3 1646.9,625.2 1642.0,620.3" fill="#007800"/><polygon points="1688.2,584.6 1693.1,589.5 1688.2,594.4 1683.3,589.5" fill="#007800"/>
<polyline points="1068.4,1052.5 1109.7,1020.4 1151.0,989.4 1192.4,958.6 1233.7,927.6 1275.0,896.2 1316.3,864.6 1357.6,833.8 1399.0,802.8 1440.3,771.8 1481.6,740.4 1522.9,709.0 1564.2,677.9 1605.6,646.5 1646.9,615.1 1688.2,583.7" fill="none" stroke="#5a4ab0" stroke-width="1.5"/>
<polygon points="1063.4,1052.5 1071.3,1047.9 1071.3,1057.1" fill="#2a00b0"/><polygon points="1104.7,1020.4 1112.6,1015.8 1112.6,1025.0" fill="#2a00b0"/><polygon points="1146.0,989.4 1153.9,984.8 1153.9,994.0" fill="#2a00b0"/><polygon points="1187.4,958.6 1195.3,954.0 1195.3,963.2" fill="#2a00b0"/><polygon points="1228.7,927.6 1236.6,923.0 1236.6,932.2" fill="#2a00b0"/><polygon points="1270.0,896.2 1277.9,891.6 1277.9,900.8" fill="#2a00b0"/><polygon points="1311.3,864.6 1319.2,860.0 1319.2,869.2" fill="#2a00b0"/><polygon points="1352.6,833.8 1360.5,829.2 1360.5,838.4" fill="#2a00b0"/><polygon points="1394.0,802.8 1401.9,798.2 1401.9,807.4" fill="#2a00b0"/><polygon points="1435.3,771.8 1443.2,767.2 1443.2,776.4" fill="#2a00b0"/><polygon points="1476.6,740.4 1484.5,735.8 1484.5,745.0" fill="#2a00b0"/><polygon points="1517.9,709.0 1525.8,704.4 1525.8,713.6" fill="#2a00b0"/><polygon points="1559.2,677.9 1567.1,673.3 1567.1,682.5" fill="#2a00b0"/><polygon points="1600.6,646.5 1608.5,641.9 1608.5,651.1" fill="#2a00b0"/><polygon points="1641.9,615.1 1649.8,610.5 1649.8,619.7" fill="#2a00b0"/><polygon points="1683.2,583.7 1691.1,579.1 1691.1,588.3" fill="#2a00b0"/>
<polyline points="1068.4,1051.2 1109.7,1019.1 1151.0,988.1 1192.4,957.3 1233.7,926.3 1275.0,894.9 1316.3,863.3 1357.6,832.5 1399.0,801.5 1440.3,770.5 1481.6,739.1 1522.9,707.7 1564.2,676.6 1605.6,645.2 1646.9,613.8 1688.2,582.4" fill="none" stroke="#b060ff" stroke-width="1.5"/>
<polygon points="1073.4,1051.2 1065.5,1046.6 1065.5,1055.8" fill="#7d10f5"/><polygon points="1114.7,1019.1 1106.8,1014.5 1106.8,1023.7" fill="#7d10f5"/><polygon points="1156.0,988.1 1148.1,983.5 1148.1,992.7" fill="#7d10f5"/><polygon points="1197.4,957.3 1189.5,952.7 1189.5,961.9" fill="#7d10f5"/><polygon points="1238.7,926.3 1230.8,921.7 1230.8,930.9" fill="#7d10f5"/><polygon points="1280.0,894.9 1272.1,890.3 1272.1,899.5" fill="#7d10f5"/><polygon points="1321.3,863.3 1313.4,858.7 1313.4,867.9" fill="#7d10f5"/><polygon points="1362.6,832.5 1354.7,827.9 1354.7,837.1" fill="#7d10f5"/><polygon points="1404.0,801.5 1396.1,796.9 1396.1,806.1" fill="#7d10f5"/><polygon points="1445.3,770.5 1437.4,765.9 1437.4,775.1" fill="#7d10f5"/><polygon points="1486.6,739.1 1478.7,734.5 1478.7,743.7" fill="#7d10f5"/><polygon points="1527.9,707.7 1520.0,703.1 1520.0,712.3" fill="#7d10f5"/><polygon points="1569.2,676.6 1561.3,672.0 1561.3,681.2" fill="#7d10f5"/><polygon points="1610.6,645.2 1602.7,640.6 1602.7,649.8" fill="#7d10f5"/><polygon points="1651.9,613.8 1644.0,609.2 1644.0,618.4" fill="#7d10f5"/><polygon points="1693.2,582.4 1685.3,577.8 1685.3,587.0" fill="#7d10f5"/>
<text x="1088.31" y="610.8" font-size="34.3" letter-spacing="0.472" >Microcantilever stiffness: 0.6 N/m</text>
<text x="1338.60" y="499.3" font-size="54.5" letter-spacing="0.401" >(e)</text>
<text><tspan x="1667.33" y="480.50" font-size="46.5" letter-spacing="0.000" font-style="italic">l</tspan><tspan x="1681.02" y="490.60" font-size="30.5" letter-spacing="1.518" font-style="italic">NW </tspan><tspan x="1739.66" y="480.60" font-size="46.5" letter-spacing="0.452">(µm)</tspan></text>
<line x1="1705.6" y1="562.4" x2="1741.0" y2="534.4" stroke="#444" stroke-width="1.8"/>
<text x="1755.28" y="525.7" font-size="34.5" letter-spacing="0.244" >26</text>
<line x1="1705.6" y1="575.0" x2="1741.0" y2="560.4" stroke="#444" stroke-width="1.8"/>
<text x="1755.28" y="562.5" font-size="34.5" letter-spacing="0.330" >20</text>
<line x1="1705.4" y1="588.5" x2="1741.8" y2="588.5" stroke="#444" stroke-width="1.8"/>
<text x="1758.57" y="596.8" font-size="34.5" letter-spacing="-1.129" >14</text>
<line x1="1705.4" y1="621.4" x2="1741.8" y2="621.4" stroke="#444" stroke-width="1.8"/>
<text x="1759.09" y="630.0" font-size="34.5" letter-spacing="0.000" >8</text>
<line x1="1705.4" y1="645.6" x2="1741.8" y2="645.6" stroke="#444" stroke-width="1.8"/>
<text x="1758.12" y="659.6" font-size="34.5" letter-spacing="0.000" >6</text>
<line x1="1705.4" y1="725.0" x2="1741.8" y2="725.0" stroke="#444" stroke-width="1.8"/>
<text x="1758.63" y="736.9" font-size="34.5" letter-spacing="0.000" >4</text>
<line x1="1705.4" y1="982.0" x2="1741.8" y2="982.0" stroke="#444" stroke-width="1.8"/>
<text x="1757.48" y="990.8" font-size="34.5" letter-spacing="0.000" >2</text>
<text><tspan x="1286.97" y="1175.30" font-size="50.5" letter-spacing="0.000" font-weight="bold" font-style="italic">D </tspan><tspan x="1336.18" y="1175.30" font-size="50.5" letter-spacing="-0.858">(µm)</tspan></text>
<text transform="rotate(-90)"><tspan x="-917.85" y="953.80" font-size="46.8" letter-spacing="0.000" font-weight="bold" font-style="italic">d</tspan><tspan x="-894.12" y="961.70" font-size="28.5" letter-spacing="0.000" font-weight="bold" font-style="italic">c </tspan><tspan x="-874.32" y="952.60" font-size="50.5" letter-spacing="-0.724">(µm)</tspan></text>
</g>
</g>
</svg></body></html>
